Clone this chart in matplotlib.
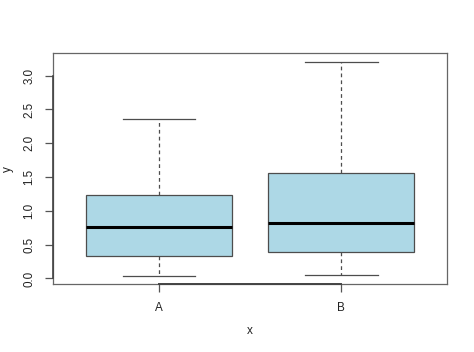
import matplotlib
matplotlib.use('Agg')
import matplotlib.pyplot as plt

plt.rcParams['font.family'] = ['Liberation Sans', 'DejaVu Sans']

# data (box statistics)
groups = ['A', 'B']
whislo = [0.04, 0.055]
q1 = [0.335, 0.39]
med = [0.755, 0.82]
q3 = [1.23, 1.56]
whishi = [2.36, 3.205]
yticks = [0.0, 0.5, 1.0, 1.5, 2.0, 2.5, 3.0]

stats = []
for i, g in enumerate(groups):
    stats.append({'label': g, 'whislo': whislo[i], 'q1': q1[i], 'med': med[i],
                  'q3': q3[i], 'whishi': whishi[i], 'fliers': []})

fig = plt.figure(figsize=(4.74, 3.52), dpi=100)
ax = fig.add_axes([0.1125, 0.1923, 0.83, 0.6563])

pos = list(range(1, len(groups) + 1))
ax.bxp(stats, positions=pos, widths=0.8, patch_artist=True, showfliers=False,
       boxprops=dict(facecolor='#ADD8E6', edgecolor='#4d4d4d', linewidth=0.9),
       medianprops=dict(color='black', linewidth=2.2, solid_capstyle='butt'),
       whiskerprops=dict(color='#4d4d4d', linewidth=0.9, linestyle=(0, (3, 2.5))),
       capprops=dict(color='#4d4d4d', linewidth=0.9), capwidths=0.4)

lo = min(whislo)
hi = max(whishi)
ext = (hi - lo) * 0.04
ax.set_ylim(lo - ext, hi + ext)
ax.set_xlim(0.42, len(groups) + 0.58)

for s in ax.spines.values():
    s.set_color('#666666')
    s.set_linewidth(0.9)

ax.set_xticks(pos)
ax.set_xticklabels(groups)
ax.set_yticks(yticks)
ax.set_yticklabels([f'{v:.1f}' for v in yticks], rotation=90, va='center')
ax.tick_params(axis='both', length=6, width=0.9, color='#555555', labelsize=8.4,
               labelcolor='#222222')
ax.tick_params(axis='x', pad=7)
ax.tick_params(axis='y', pad=7)

# R-style axis lines spanning the tick range
ax.plot([pos[0], pos[-1]], [lo - ext, lo - ext], color='#444444', lw=1.4,
        clip_on=False, zorder=5)
ax.plot([0.42, 0.42], [yticks[0], yticks[-1]], color='#444444', lw=1.2,
        clip_on=False, zorder=5)

ax.set_xlabel('x', fontsize=8.5, color='#222222', va='center')
ax.set_ylabel('y', fontsize=8.5, color='#222222', va='center')
ax.xaxis.set_label_coords(0.5, -0.202)
ax.yaxis.set_label_coords(-0.115, 0.5)

fig.savefig('out.png', dpi=100)
